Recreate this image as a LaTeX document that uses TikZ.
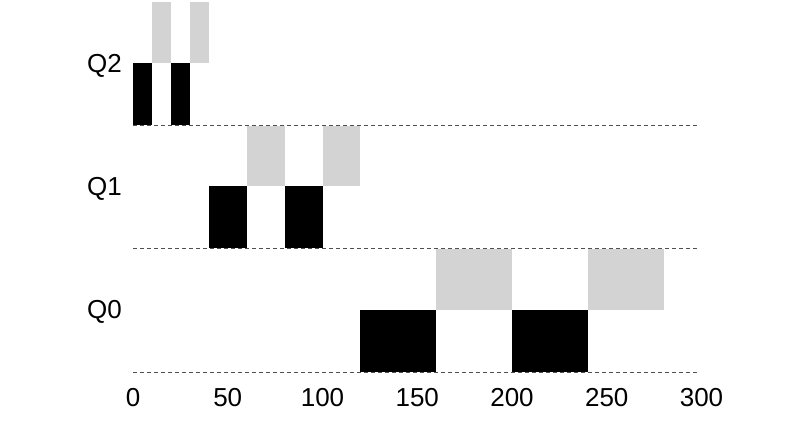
\documentclass[tikz,border=0pt]{standalone}
\usepackage{fontspec}
\setmainfont{Liberation Sans}
\definecolor{boxgray}{RGB}{211,211,211}
\definecolor{dashgray}{RGB}{80,80,80}
\begin{document}
\begin{tikzpicture}[x=1pt,y=-1pt,
  lbl/.style={font=\fontsize{26}{31}\selectfont, inner sep=0pt},
  sep/.style={draw=dashgray, line width=0.9pt, dash pattern=on 4pt off 3pt},
  run/.style={fill=black},
  wait/.style={fill=boxgray}]
\useasboundingbox (0,0) rectangle (798,425);
\begin{scope}[xshift=133pt, x=1.895pt]
  % separators
  \draw[sep] (0,125) -- (298,125);
  \draw[sep] (0,248) -- (298,248);
  \draw[sep] (0,372) -- (298,372);
  % Q2
  \fill[run]  (0,63) rectangle (10,125);
  \fill[wait] (10,2) rectangle (20,63);
  \fill[run]  (20,63) rectangle (30,125);
  \fill[wait] (30,2) rectangle (40,63);
  % Q1
  \fill[run]  (40,186) rectangle (60,248);
  \fill[wait] (60,125.6) rectangle (80,186);
  \fill[run]  (80,186) rectangle (100,248);
  \fill[wait] (100,125.6) rectangle (120,186);
  % Q0
  \fill[run]  (120,310) rectangle (160,372);
  \fill[wait] (160,248.6) rectangle (200,310);
  \fill[run]  (200,310) rectangle (240,372);
  \fill[wait] (240,248.6) rectangle (280,310);
  % axis labels
  \foreach \v in {0,50,...,300}
    \node[lbl] (t\v) at (\v,397.5) {\v};
\end{scope}
\node[lbl, anchor=east] (q2) at (122,66) {Q2};
\node[lbl, anchor=east] (q1) at (122,189) {Q1};
\node[lbl, anchor=east] (q0) at (122,312) {Q0};
\end{tikzpicture}
\end{document}
